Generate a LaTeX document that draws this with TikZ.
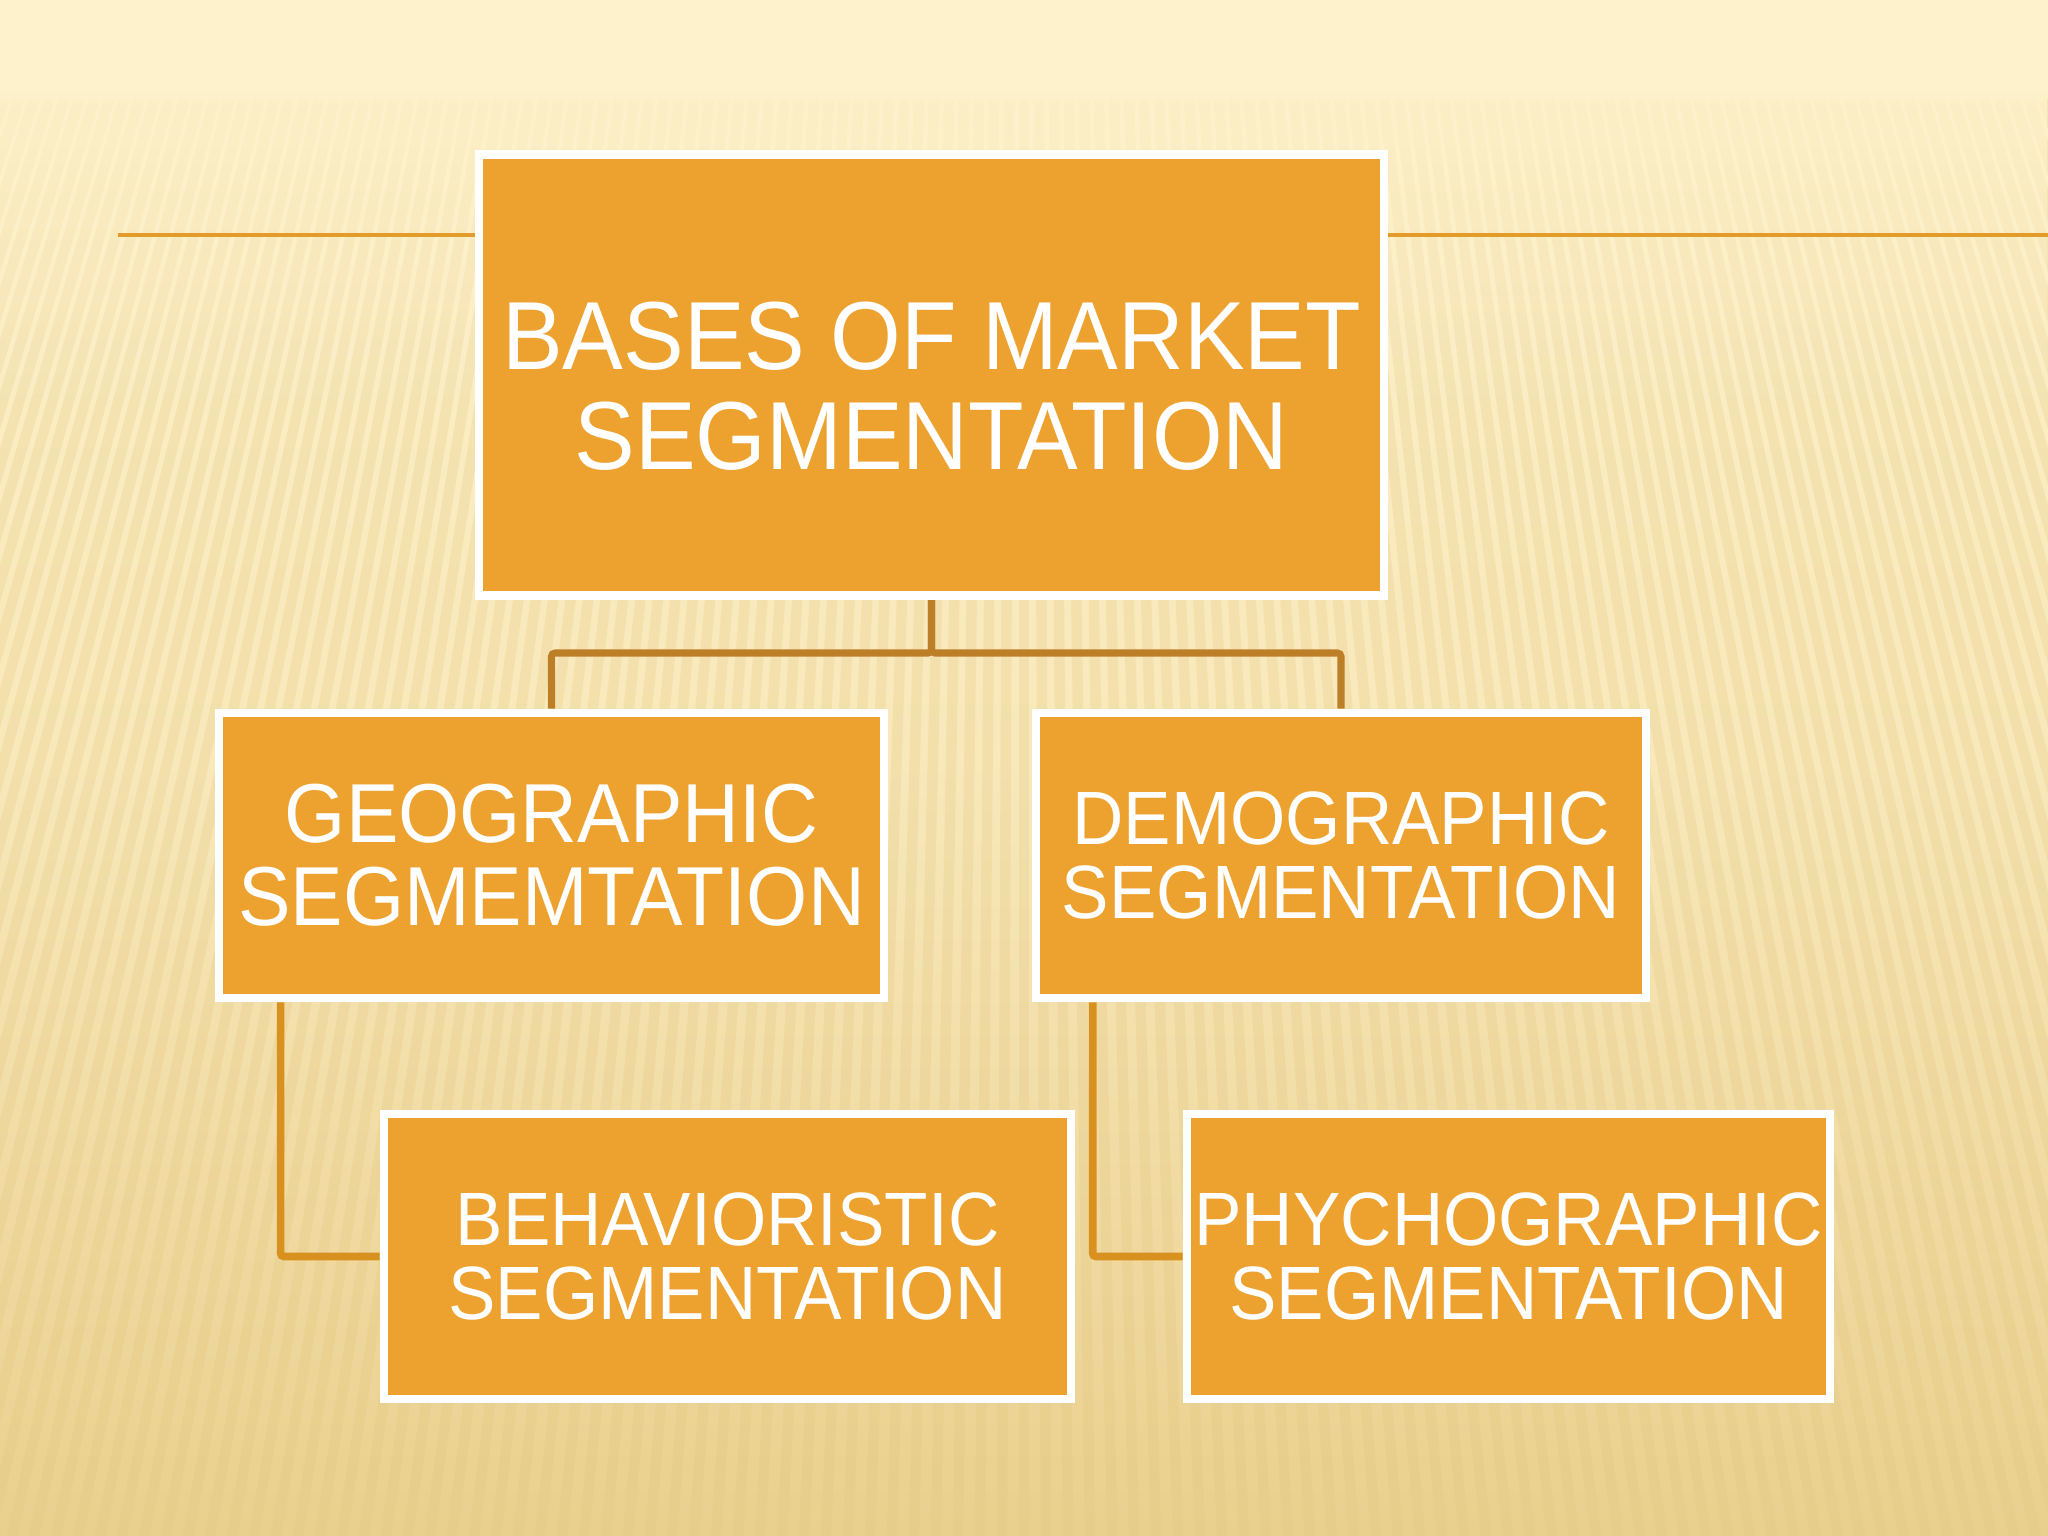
\documentclass[tikz,border=0pt]{standalone}
\usepackage{fontspec}
\newfontfamily\boxfont[FakeStretch=0.94]{Liberation Sans}
\usetikzlibrary{backgrounds,fadings}
\definecolor{cream}{HTML}{FEF2CC}
\definecolor{sand}{HTML}{EAD08F}
\definecolor{stripe}{HTML}{E2C67E}
\definecolor{boxfill}{HTML}{EDA22F}
\definecolor{trunkcol}{HTML}{BC7E27}
\definecolor{branchcol}{HTML}{D8901F}
\definecolor{rulecol}{HTML}{E39B2C}
\begin{document}
\begin{tikzpicture}[x=0.01cm, y=-0.01cm,
    box/.style={draw=white, line width=2.4pt, fill=boxfill, text=white,
      align=center, inner sep=0pt, minimum height=2.85cm, font=\boxfont},
    trunk/.style={draw=trunkcol, line width=2pt, rounded corners=1pt},
    branch/.style={draw=branchcol, line width=2.2pt, rounded corners=1pt},
    rule/.style={draw=rulecol, line width=1.2pt}]
  \useasboundingbox (0,0) rectangle (2048,1536);
  \draw
    (931.5,375) node[box, minimum width=9.05cm, minimum height=4.41cm,
      font=\boxfont\fontsize{27.5}{28.5}\selectfont] (bases)
      {\rule{0pt}{25.5pt}BASES OF MARKET\\SEGMENTATION}
    (551.5,855.5) node[box, minimum width=6.65cm,
      font=\boxfont\fontsize{23.8}{23.7}\selectfont] (geo)
      {GEOGRAPHIC\\SEGMEMTATION}
    (1341,855.5) node[box, minimum width=6.10cm,
      font=\boxfont\fontsize{21.5}{21.1}\selectfont] (demo)
      {DEMOGRAPHIC\\SEGMENTATION}
    (727.5,1256.5) node[box, minimum width=6.87cm,
      font=\boxfont\fontsize{21.5}{21}\selectfont] (behav)
      {BEHAVIORISTIC\\SEGMENTATION}
    (1508.5,1256.5) node[box, minimum width=6.43cm,
      font=\boxfont\fontsize{21.5}{21}\selectfont] (psycho)
      {PHYCHOGRAPHIC\\SEGMENTATION};
  \coordinate (split) at (931.5,653);
  \coordinate (ruleL) at (118,235);
  \coordinate (ruleR) at (2048,235);
  \begin{scope}[on background layer]
    % backdrop
    \shade[top color=cream, bottom color=sand, middle color=cream!70!sand]
      (0,0) rectangle (2048,1536);
    \begin{scope}
      \clip (0,0) rectangle (2048,1536);
      \foreach \i in {-95,...,95}
        \draw[stripe, line width=3pt, opacity=0.25]
          (1024+\i*15,100) -- (1024+\i*22,1536);
    \end{scope}
    \fill[cream, path fading=south] (0,0) rectangle (2048,420);
    \fill[cream] (0,0) rectangle (2048,90);
    \draw[rule] (ruleL) -- (ruleL -| bases.west);
    \draw[rule] (ruleR -| bases.east) -- (ruleR);
    % tree
    \draw[trunk] (bases.south) -- (split) -| (geo.north);
    \draw[trunk] (bases.south) -- (split) -| (demo.north);
    \draw[branch] ([xshift=0.66cm]geo.south west) |- (behav.west);
    \draw[branch] ([xshift=0.61cm]demo.south west) |- (psycho.west);
  \end{scope}
\end{tikzpicture}
\end{document}
